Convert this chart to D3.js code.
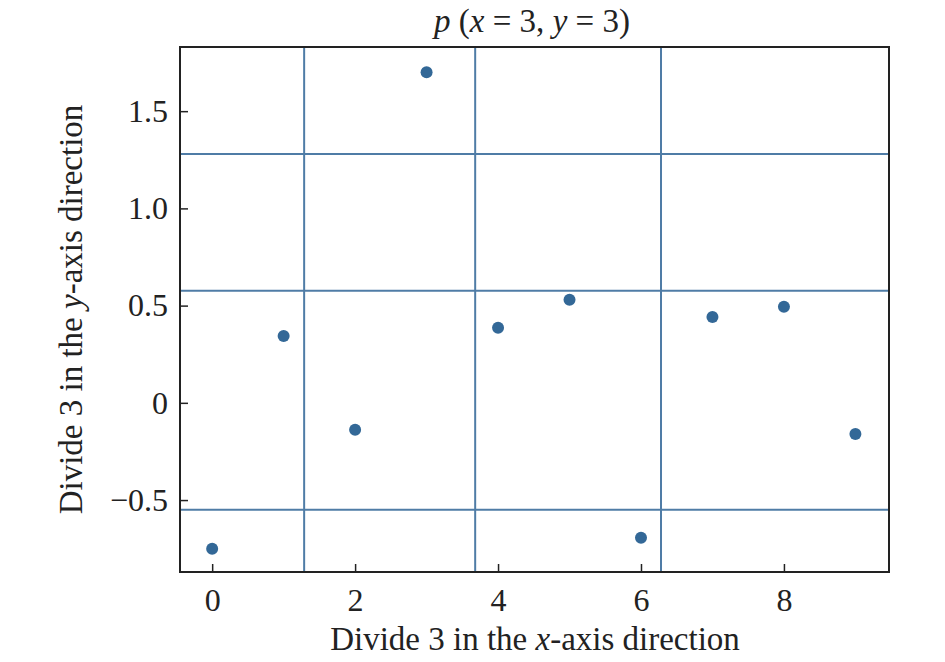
<!DOCTYPE html><html><head><meta charset="utf-8"><script src="https://cdn.jsdelivr.net/npm/d3@7"></script>
<style>body{margin:0;background:#fff}text{font-family:"Liberation Serif","Times New Roman",serif;fill:#222}</style></head><body><svg id="c" width="945" height="662"></svg><script>
const xs=[0,1,2,3,4,5,6,7,8,9];
const ys=[-0.75,0.344,-0.139,1.70,0.386,0.53,-0.694,0.442,0.494,-0.16];
const vLines=[1.287,3.68,6.28];
const hLines=[1.28,0.576,-0.55];
const xTicks=[0,2,4,6,8];
const yTicks=[1.5,1.0,0.5,0,-0.5];
const yTickLabels=["1.5","1.0","0.5","0","\u22120.5"];
const svg=d3.select("#c");
const L=180,R=889,T=47,B=572;
const x=d3.scaleLinear().domain([-0.45,9.47]).range([L,R]);
const y=d3.scaleLinear().domain([-0.87,1.83]).range([B,T]);
const lc="#4f7ca6";
svg.selectAll(".v").data(vLines).enter().append("line").attr("x1",d=>x(d)).attr("x2",d=>x(d)).attr("y1",T).attr("y2",B).attr("stroke",lc).attr("stroke-width",2);
svg.selectAll(".h").data(hLines).enter().append("line").attr("y1",d=>y(d)).attr("y2",d=>y(d)).attr("x1",L).attr("x2",R).attr("stroke",lc).attr("stroke-width",2);
svg.selectAll("circle").data(xs).enter().append("circle").attr("cx",d=>x(d)).attr("cy",(d,i)=>y(ys[i])).attr("r",6).attr("fill","#336897");
const gx=svg.append("g").attr("transform",`translate(0,${B})`).call(d3.axisBottom(x).tickValues(xTicks).tickSizeInner(-8).tickSizeOuter(0).tickPadding(16));
const gy=svg.append("g").attr("transform",`translate(${L},0)`).call(d3.axisLeft(y).tickValues(yTicks).tickFormat((d,i)=>yTickLabels[i]).tickSizeInner(-8).tickSizeOuter(0).tickPadding(12));
[gx,gy].forEach(g=>{g.attr("font-size",null).attr("font-family",null);g.select(".domain").remove();g.selectAll("line").attr("stroke","#222").attr("stroke-width",1.5);g.selectAll("text").style("font-size","32px").style("font-family","Liberation Serif").attr("fill","#222");});
svg.append("rect").attr("x",L).attr("y",T).attr("width",R-L).attr("height",B-T).attr("fill","none").attr("stroke","#222").attr("stroke-width",2);
const t=svg.append("text").attr("x",532).attr("y",32).attr("text-anchor","middle").style("font-size","33px");
t.append("tspan").attr("font-style","italic").text("p");t.append("tspan").text(" (");
t.append("tspan").attr("font-style","italic").text("x");t.append("tspan").text(" = 3, ");
t.append("tspan").attr("font-style","italic").text("y");t.append("tspan").text(" = 3)");
const xl=svg.append("text").attr("x",535).attr("y",650).attr("text-anchor","middle").style("font-size","33px");
xl.append("tspan").text("Divide 3 in the ");xl.append("tspan").attr("font-style","italic").text("x");xl.append("tspan").text("-axis direction");
const yl=svg.append("text").attr("transform",`translate(82,${(T+B)/2}) rotate(-90)`).attr("text-anchor","middle").style("font-size","33px");
yl.append("tspan").text("Divide 3 in the ");yl.append("tspan").attr("font-style","italic").text("y");yl.append("tspan").text("-axis direction");
</script></body></html>
